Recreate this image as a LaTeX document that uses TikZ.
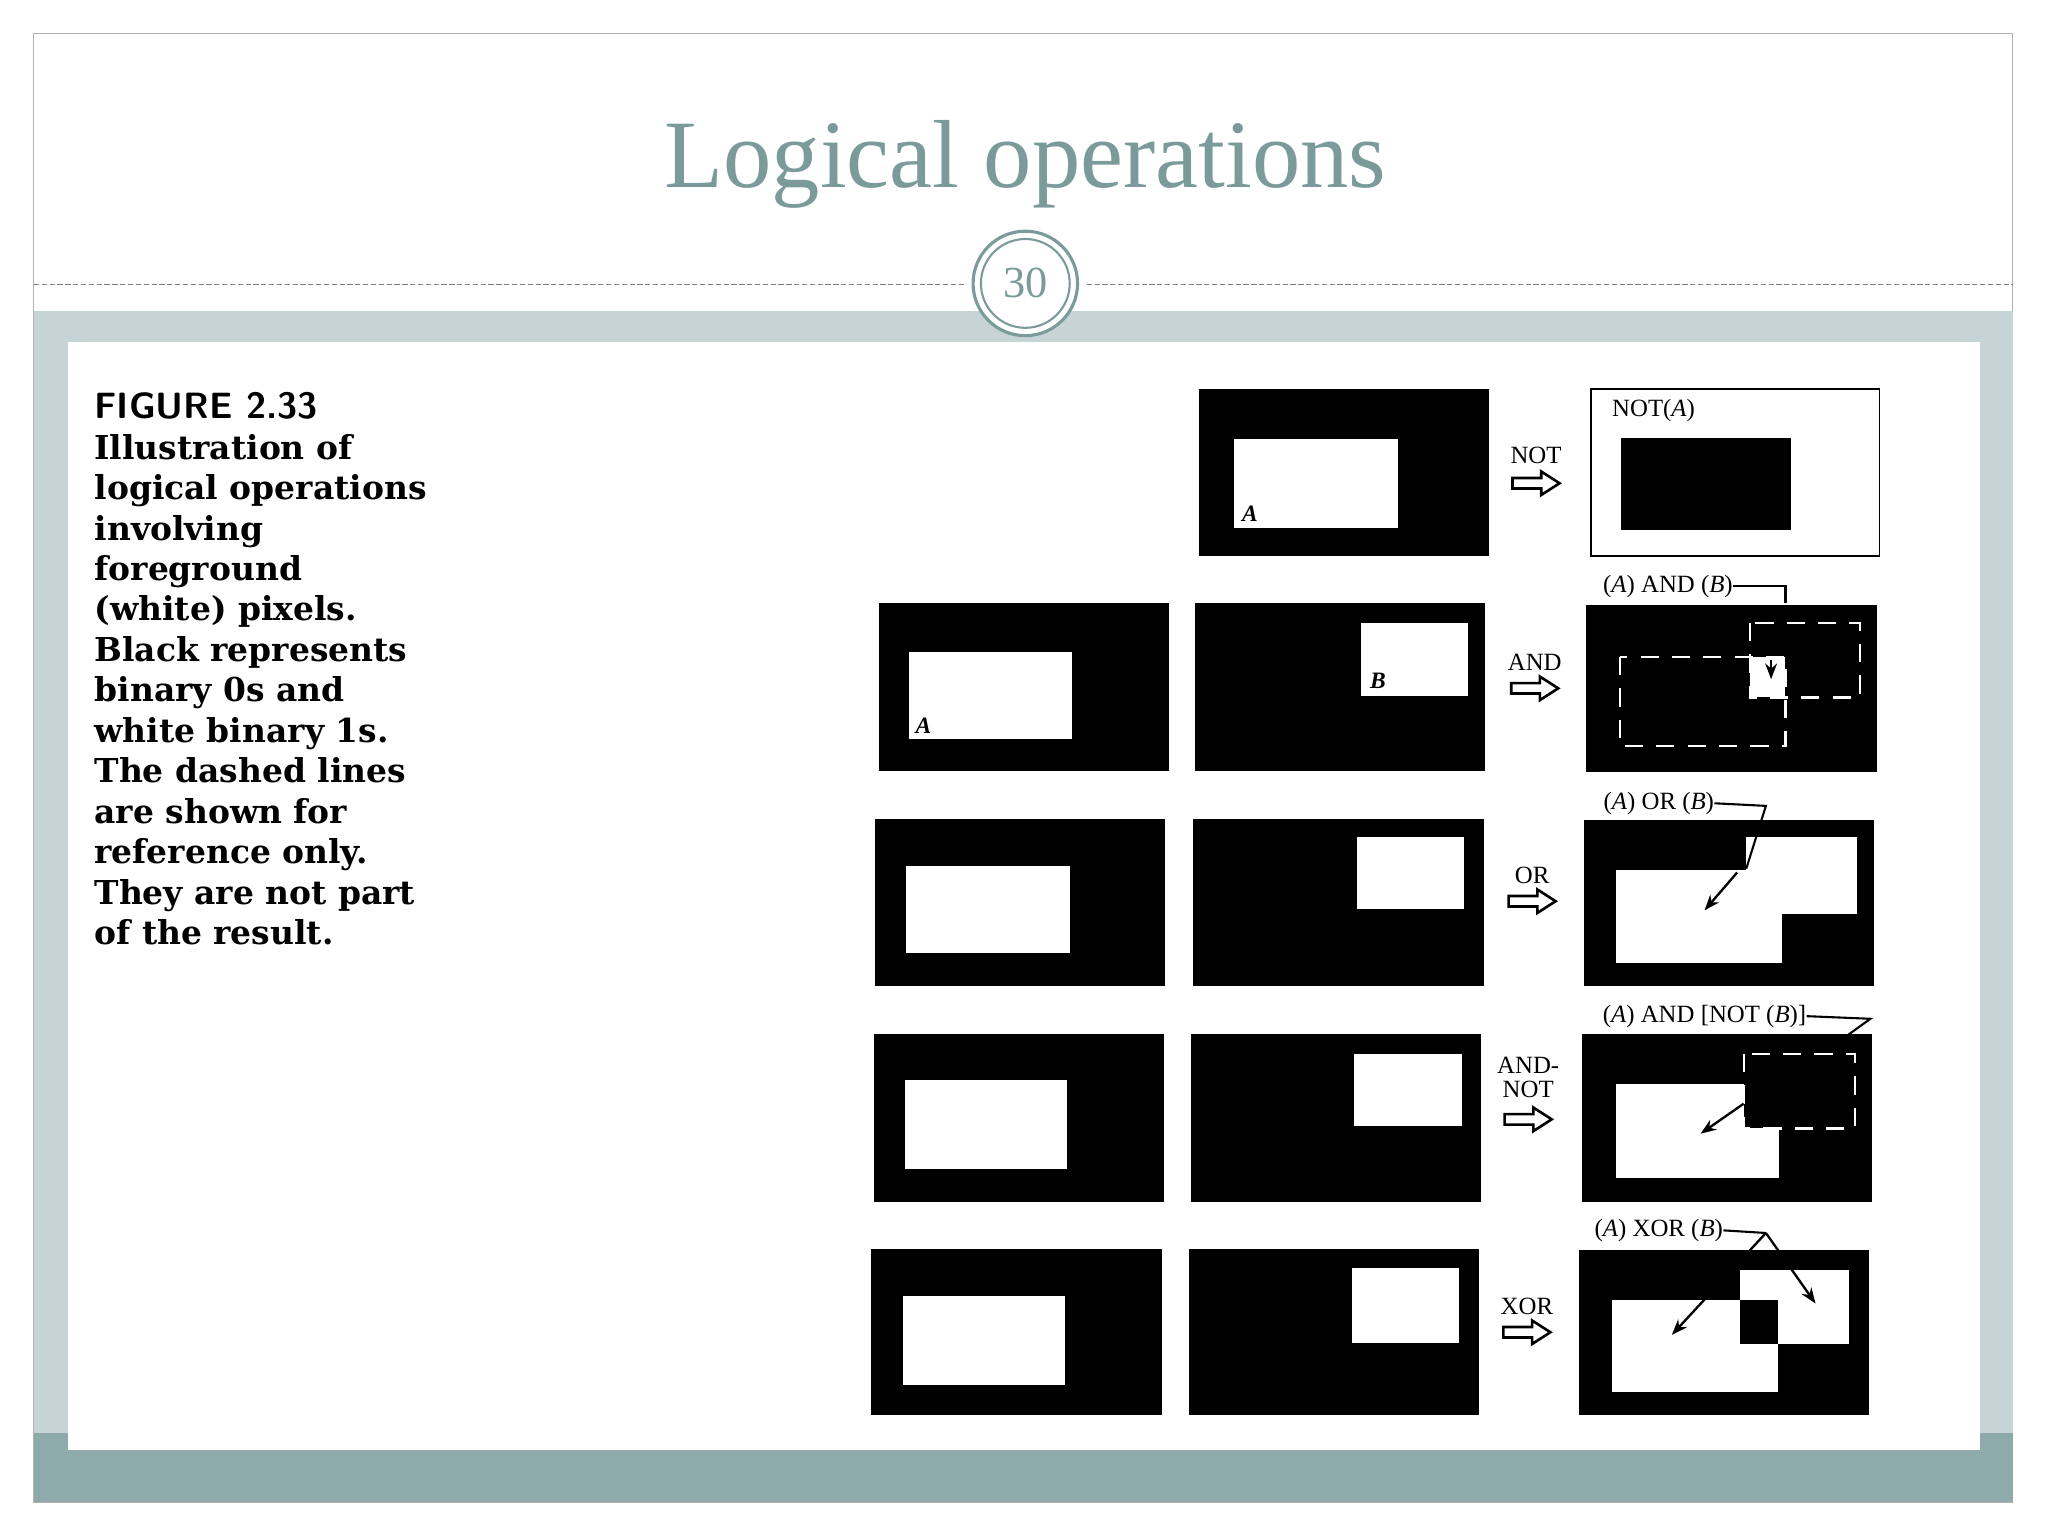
\documentclass[tikz,border=0pt]{standalone}
\usepackage{fontspec}
\setmainfont{Liberation Serif}
\newfontfamily\capfont{DejaVu Serif}
\usetikzlibrary{arrows.meta}
\definecolor{band}{HTML}{C6D4D6}
\definecolor{dark}{HTML}{8EAAAB}
\definecolor{ttl}{HTML}{7B9B9B}
\tikzset{blk/.style={fill=black},wht/.style={fill=white},
 dsh/.style={white,dashed,line width=0.8pt,dash pattern=on 7pt off 5pt},
 lbl/.style={font=\fontsize{9.5pt}{10pt}\selectfont,inner sep=0pt},
 ptr/.style={line width=0.9pt,-{Stealth[length=6pt]}},
 captxt/.style={font=\capfont\bfseries\fontsize{12.6pt}{15.5pt}\selectfont,anchor=north west,align=left,inner sep=0pt}}
\newcommand\harrow[2]{\draw[line width=1pt,fill=white] (#1-18,#2-4)--(#1+4,#2-4)--(#1+4,#2-9)--(#1+18,#2)--(#1+4,#2+9)--(#1+4,#2+4)--(#1-18,#2+4)--cycle;}
\begin{document}
\begin{tikzpicture}[x=0.5pt,y=-0.5pt]
\useasboundingbox (0,0) rectangle (1568,1176);
\fill[white] (0,0) rectangle (1568,1176);
\draw[gray!60] (26,26) rectangle (1541,1150);
\fill[band] (26,238) rectangle (1541,1150);
\fill[dark] (26,1097) rectangle (1541,1150);
\fill[white] (52,262) rectangle (1516,1110);
\draw[gray,dashed,dash pattern=on 2pt off 1pt] (26,218)--(738,218) (832,218)--(1541,218);
\node[circle,fill=white,draw=ttl,line width=1.2pt,minimum size=40pt] (c) at (785,217) {};
\draw[ttl,line width=0.8pt] (785,217) circle (34);
\node[text=ttl,font=\fontsize{17pt}{17pt}\selectfont] (num) at (785,217) {30};
\node[text=ttl,font=\fontsize{37pt}{37pt}\selectfont] (title) at (785,126) {Logical operations};
\node[captxt] (caption) at (72,300) {{\sffamily\fontsize{14pt}{15pt}\selectfont FIGURE 2.33}\\Illustration of\\logical operations\\involving\\foreground\\(white) pixels.\\Black represents\\binary 0s and\\white binary 1s.\\The dashed lines\\are shown for\\reference only.\\They are not part\\of the result.};
% row 1
\fill[blk] (918,298) rectangle (1140,426); \fill[wht] (945,336) rectangle (1070,404);
\node[lbl,font=\bfseries\itshape\fontsize{9pt}{9pt}\selectfont] (a1) at (957,393) {A};
\node[lbl] (l1) at (1176,349) {NOT}; \harrow{1176}{370}
\draw[line width=0.7pt] (1218,298) rectangle (1439,426); \fill[blk] (1241,335) rectangle (1371,406);
\node[lbl] (r1) at (1266,314) {NOT(\textit{A})};
% row 2
\fill[blk] (673,462) rectangle (895,590); \fill[wht] (696,499) rectangle (821,566);
\node[lbl,font=\bfseries\itshape\fontsize{9pt}{9pt}\selectfont] (a2) at (707,556) {A};
\fill[blk] (915,462) rectangle (1137,590); \fill[wht] (1042,477) rectangle (1124,533);
\node[lbl,font=\bfseries\itshape\fontsize{9pt}{9pt}\selectfont] (b2) at (1055,521) {B};
\node[lbl] (l2) at (1175,507) {AND}; \harrow{1175}{527}
\fill[blk] (1214,463) rectangle (1437,591); \fill[wht] (1340,503) rectangle (1367,534);
\draw[dsh] (1240,503) rectangle (1367,571); \draw[dsh] (1340,477) rectangle (1424,534);
\node[lbl] (r2) at (1277,449) {(\textit{A}) AND (\textit{B})};
\coordinate (h2) at (1367,449);
\draw[line width=0.8pt] (r2.east)--(h2)--(1367,462);
\draw[ptr] (1356,505)--(1356,520);
% row 3
\fill[blk] (670,627) rectangle (892,755); \fill[wht] (694,663) rectangle (819,730);
\fill[blk] (913,627) rectangle (1136,755); \fill[wht] (1039,641) rectangle (1121,696);
\node[lbl] (l3) at (1173,670) {OR}; \harrow{1173}{690}
\fill[blk] (1213,628) rectangle (1435,755); \fill[wht] (1237,666) rectangle (1364,737); \fill[wht] (1337,641) rectangle (1422,700);
\node[lbl] (r3) at (1270,615) {(\textit{A}) OR (\textit{B})};
\coordinate (h3) at (1352,617);
\draw[line width=0.8pt] (r3.east)--(h3)--(1337,665);
\draw[ptr,black] (1330,668)--(1305,697);
% row 4
\fill[blk] (669,792) rectangle (891,920); \fill[wht] (693,827) rectangle (817,895);
\fill[blk] (912,792) rectangle (1134,920); \fill[wht] (1037,807) rectangle (1119,862);
\node[lbl,align=center,font=\fontsize{9.5pt}{9pt}\selectfont] (l4) at (1170,825) {AND-\\NOT}; \harrow{1170}{857}
\fill[blk] (1211,792) rectangle (1433,920); \fill[wht] (1237,830) rectangle (1362,902);
\fill[blk] (1335,807) rectangle (1420,864); \draw[dsh] (1335,807) rectangle (1420,864);
\node[lbl] (r4) at (1305,778) {(\textit{A}) AND [NOT (\textit{B})]};
\coordinate (h4) at (1432,780);
\draw[line width=0.8pt] (r4.east)--(h4)--(1414,793);
\draw[ptr] (1335,845)--(1302,868);
% row 5
\fill[blk] (667,956) rectangle (890,1083); \fill[wht] (691,992) rectangle (815,1060);
\fill[blk] (910,956) rectangle (1132,1083); \fill[wht] (1035,971) rectangle (1117,1028);
\node[lbl] (l5) at (1169,1000) {XOR}; \harrow{1169}{1020}
\fill[blk] (1209,957) rectangle (1431,1083); \fill[wht] (1234,995) rectangle (1361,1066); \fill[wht] (1332,972) rectangle (1416,1029);
\fill[blk] (1332,995) rectangle (1361,1029);
\node[lbl] (r5) at (1270,942) {(\textit{A}) XOR (\textit{B})};
\coordinate (h5) at (1352,944);
\draw[line width=0.8pt] (r5.east)--(h5);
\draw[ptr] (h5)--(1280,1022);
\draw[ptr] (h5)--(1390,998);
\end{tikzpicture}
\end{document}
